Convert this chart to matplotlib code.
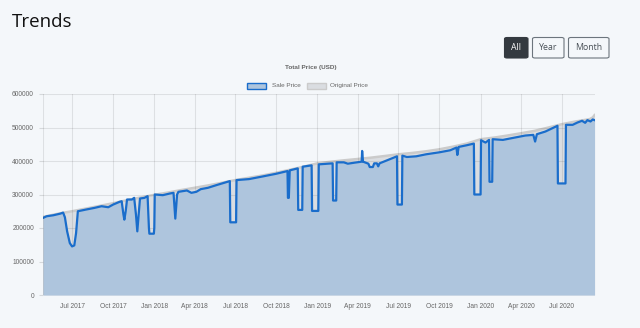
import numpy as np
import matplotlib
matplotlib.use('Agg')
import matplotlib.pyplot as plt
import matplotlib.dates as mdates
from matplotlib.patches import FancyBboxPatch, Rectangle
import pandas as pd

# sale price at its break points
sale_dates = ['2017-04-27', '2017-05-05', '2017-05-20', '2017-06-05', '2017-06-11', '2017-06-15',
              '2017-06-20', '2017-06-26', '2017-07-01', '2017-07-06', '2017-07-10', '2017-07-14',
              '2017-08-01', '2017-08-20', '2017-09-05', '2017-09-20', '2017-10-01', '2017-10-15',
              '2017-10-20', '2017-10-24', '2017-10-26', '2017-10-29', '2017-11-01', '2017-11-12',
              '2017-11-17', '2017-11-21', '2017-11-24', '2017-11-27', '2017-11-30', '2017-12-10',
              '2017-12-17', '2017-12-20', '2017-12-21', '2017-12-31', '2018-01-01', '2018-01-02',
              '2018-01-20', '2018-02-05', '2018-02-13', '2018-02-17', '2018-02-21', '2018-02-24',
              '2018-03-15', '2018-03-25', '2018-04-05', '2018-04-15', '2018-05-01', '2018-05-20',
              '2018-06-19', '2018-06-20', '2018-07-03', '2018-07-04', '2018-08-01', '2018-09-01',
              '2018-10-01', '2018-10-26', '2018-10-27', '2018-10-29', '2018-10-31', '2018-11-18',
              '2018-11-19', '2018-11-28', '2018-11-29', '2018-12-19', '2018-12-20', '2019-01-03',
              '2019-01-04', '2019-02-04', '2019-02-05', '2019-02-12', '2019-02-13', '2019-03-01',
              '2019-03-10', '2019-03-25', '2019-04-10', '2019-04-11', '2019-04-13', '2019-04-25',
              '2019-04-28', '2019-05-05', '2019-05-08', '2019-05-14', '2019-05-17', '2019-05-20',
              '2019-06-28', '2019-06-29', '2019-07-09', '2019-07-10', '2019-07-20', '2019-08-10',
              '2019-09-01', '2019-10-01', '2019-10-25', '2019-11-08', '2019-11-10', '2019-11-13',
              '2019-12-01', '2019-12-17', '2019-12-18', '2020-01-01', '2020-01-02', '2020-01-12',
              '2020-01-20', '2020-01-21', '2020-01-27', '2020-01-28', '2020-02-20', '2020-03-10',
              '2020-04-10', '2020-04-28', '2020-05-02', '2020-05-06', '2020-05-25', '2020-06-21',
              '2020-06-22', '2020-07-09', '2020-07-10', '2020-07-25', '2020-08-05', '2020-08-15',
              '2020-08-22', '2020-08-27', '2020-09-03', '2020-09-08', '2020-09-12']
sale_values = [230000, 235000, 238000, 243000, 246000, 232000,
               190000, 155000, 145000, 148000, 185000, 250000,
               255000, 260000, 265000, 262000, 270000, 278000,
               280000, 240000, 225000, 250000, 285000, 285000,
               290000, 240000, 190000, 240000, 288000, 290000,
               295000, 200000, 183000, 183000, 200000, 300000,
               298000, 303000, 305000, 228000, 300000, 308000,
               312000, 305000, 308000, 316000, 320000, 328000,
               340000, 217000, 217000, 343000, 346000, 354000,
               362000, 370000, 290000, 290000, 372000, 378000,
               254000, 254000, 383000, 387000, 251000, 251000,
               390000, 393000, 282000, 282000, 396000, 396000,
               392000, 395000, 398000, 430000, 398000, 392000,
               382000, 382000, 393000, 393000, 384000, 393000,
               414000, 270000, 270000, 416000, 412000, 414000,
               420000, 426000, 432000, 440000, 418000, 442000,
               447000, 452000, 300000, 300000, 462000, 455000,
               463000, 338000, 338000, 465000, 463000, 468000,
               476000, 478000, 458000, 480000, 488000, 505000,
               333000, 333000, 508000, 508000, 515000, 520000,
               514000, 522000, 518000, 524000, 522000]

# original price
orig_dates = ['2017-04-27', '2017-06-01', '2017-07-01', '2017-08-01', '2017-09-01', '2017-10-01',
              '2017-11-01', '2017-12-01', '2018-01-01', '2018-02-01', '2018-03-01', '2018-04-01',
              '2018-05-01', '2018-06-01', '2018-07-01', '2018-08-01', '2018-09-01', '2018-10-01',
              '2018-11-01', '2018-12-01', '2019-01-01', '2019-02-01', '2019-03-01', '2019-04-01',
              '2019-05-01', '2019-06-01', '2019-07-01', '2019-08-01', '2019-09-01', '2019-10-01',
              '2019-11-01', '2019-12-01', '2020-01-01', '2020-02-01', '2020-03-01', '2020-04-01',
              '2020-05-01', '2020-06-01', '2020-07-01', '2020-08-01', '2020-09-01', '2020-09-08',
              '2020-09-12']
orig_values = [233000, 243000, 250000, 258000, 266000, 274000,
               283000, 291000, 299000, 306000, 313000, 320000,
               327000, 335000, 343000, 350000, 357000, 365000,
               374000, 383000, 393000, 398000, 402000, 406000,
               410000, 415000, 420000, 424000, 429000, 435000,
               443000, 452000, 465000, 470000, 476000, 483000,
               490000, 500000, 510000, 518000, 525000, 530000,
               537000]

tick_dates = ['2017-07-01', '2017-10-01', '2018-01-01', '2018-04-01', '2018-07-01', '2018-10-01',
              '2019-01-01', '2019-04-01', '2019-07-01', '2019-10-01', '2020-01-01', '2020-04-01',
              '2020-07-01']
y_ticks = [0, 100000, 200000, 300000, 400000, 500000, 600000]

bg = '#f4f7fa'
sale_x = pd.to_datetime(sale_dates)
orig_x = pd.to_datetime(orig_dates)

fig = plt.figure(figsize=(6.4, 3.28), dpi=100, facecolor=bg)
ax = fig.add_axes([43/640, 33/328, 552/640, 201/328])
ax.set_facecolor(bg)

ax.fill_between(orig_x, orig_values, 0, color='#dadde1', lw=0, zorder=1)
ax.plot(orig_x, orig_values, color='#cbcbcb', lw=1.8, zorder=2)
ax.fill_between(sale_x, sale_values, 0, color='#aec5dd', lw=0, zorder=3)
ax.plot(sale_x, sale_values, color='#1a6dcb', lw=1.6, zorder=4, solid_joinstyle='round')

ax.set_xlim(pd.Timestamp('2017-04-27'), pd.Timestamp('2020-09-13'))
ax.set_ylim(0, 600000)
ax.set_xticks(pd.to_datetime(tick_dates))
ax.xaxis.set_major_formatter(mdates.DateFormatter('%b %Y'))
ax.set_yticks(y_ticks)
ax.set_yticklabels([str(v) for v in y_ticks])

ax.grid(True, color='#000000', alpha=0.09, lw=0.8, zorder=5)
ax.set_axisbelow(False)
for s in ax.spines.values():
    s.set_visible(False)
ax.axvline(ax.get_xlim()[0], color='#000000', alpha=0.09, lw=0.8, zorder=5)
ax.tick_params(axis='both', labelsize=4.8, labelcolor='#666666', color='#d5d8db',
               length=3, width=0.8)
ax.tick_params(axis='x', length=0, pad=6)
for lab in ax.get_xticklabels() + ax.get_yticklabels():
    lab.set_family('Liberation Sans')

# page title and buttons
fig.text(12/640, 1 - 22/328, 'Trends', fontsize=13.5, family='Open Sans', color='#111111',
         va='center', ha='left')
buttons = [('All', 504.5, 528, True), ('Year', 532.5, 564, False), ('Month', 568.5, 609, False)]
for label, x0, x1, active in buttons:
    box = FancyBboxPatch((x0/640, 1 - 58/328), (x1 - x0)/640, 20.5/328,
                         boxstyle='round,pad=0,rounding_size=0.004', transform=fig.transFigure,
                         facecolor='#343a40' if active else bg,
                         edgecolor='#343a40' if active else '#6c757d', lw=0.8)
    fig.patches.append(box)
    fig.text((x0 + x1)/2/640, 1 - 48/328, label, fontsize=6.3, family='Open Sans',
             color='white' if active else '#495057', ha='center', va='center')

# chart title and legend
fig.text(310.5/640, 1 - 67/328, 'Total Price (USD)', fontsize=4.6, fontweight='bold',
         family='Liberation Sans', color='#666666', ha='center', va='center')
fig.patches.append(Rectangle((247/640, 1 - 88.5/328), 19/640, 6/328, transform=fig.transFigure,
                             facecolor='#aec5dd', edgecolor='#1a6dcb', lw=1.0))
fig.text(272/640, 1 - 85.5/328, 'Sale Price', fontsize=4.6, family='Liberation Sans',
         color='#666666', ha='left', va='center')
fig.patches.append(Rectangle((307/640, 1 - 88.5/328), 19/640, 6/328, transform=fig.transFigure,
                             facecolor='#dadde1', edgecolor='#cbcbcb', lw=1.0))
fig.text(330/640, 1 - 85.5/328, 'Original Price', fontsize=4.6, family='Liberation Sans',
         color='#666666', ha='left', va='center')

fig.savefig('out.png', dpi=100, facecolor=bg)
